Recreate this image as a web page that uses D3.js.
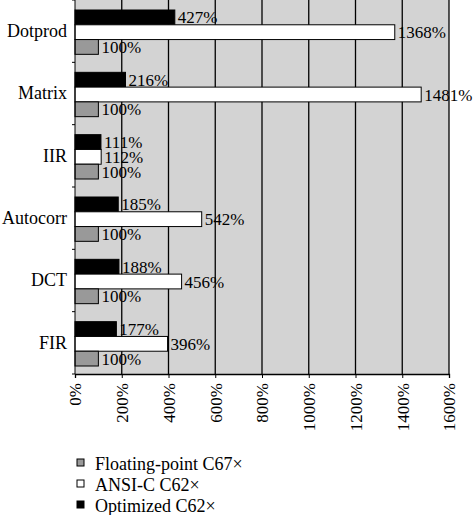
<!DOCTYPE html>
<html><head><meta charset="utf-8">
<script src="https://cdn.jsdelivr.net/npm/d3@7"></script>
<style>body{margin:0;background:#fff}text{font-family:"Liberation Serif","DejaVu Serif",serif}</style>
</head><body>
<svg id="chart" width="474" height="515"></svg>
<script>
const categories = ["Dotprod", "Matrix", "IIR", "Autocorr", "DCT", "FIR"];
const seriesNames = ["Optimized C62×", "ANSI-C C62×", "Floating-point C67×"];
const optimized = [427, 216, 111, 185, 188, 177];
const ansiC = [1368, 1481, 112, 542, 456, 396];
const floating = [100, 100, 100, 100, 100, 100];
const ticks = [0, 200, 400, 600, 800, 1000, 1200, 1400, 1600];
const colors = ["#000", "#fff", "#999"];

const svg = d3.select("#chart");
const x = d3.scaleLinear().domain([0, 1600]).range([75, 449]);
const y = d3.scaleBand().domain(categories).range([0, 374]);
const inner = d3.scaleBand().domain([0, 1, 2]).range([10, y.bandwidth() - 8]).padding(0);
const series = [optimized, ansiC, floating];

svg.append("rect").attr("x", x(0)).attr("y", 0).attr("width", x(1600) - x(0)).attr("height", 374).attr("fill", "#d3d3d3");
svg.selectAll(".grid").data(ticks.slice(1)).enter().append("line")
  .attr("x1", d => x(d)).attr("x2", d => x(d)).attr("y1", 0).attr("y2", 374)
  .attr("stroke", "#000").attr("stroke-width", 1.3);

series.forEach((vals, s) => {
  categories.forEach((c, i) => {
    const by = y(c) + inner(s);
    svg.append("rect").attr("x", x(0)).attr("y", by).attr("width", x(vals[i]) - x(0))
      .attr("height", inner.bandwidth()).attr("fill", colors[s]).attr("stroke", "#000").attr("stroke-width", 1);
    svg.append("text").attr("x", x(vals[i]) + 3).attr("y", by + inner.bandwidth() / 2 + 6)
      .attr("font-size", 17).text(vals[i] + "%");
  });
});

const yAxis = svg.append("g").attr("transform", `translate(${x(0)},0)`)
  .call(d3.axisLeft(y).tickSize(0).tickPadding(8));
yAxis.select(".domain").remove();
yAxis.selectAll("text").style("font-size", "18px").style("font-family", "Liberation Serif, serif");
svg.selectAll(".ysep").data(d3.range(7)).enter().append("line")
  .attr("x1", x(0) - 3).attr("x2", x(0)).attr("y1", d => d * y.step()).attr("y2", d => d * y.step()).attr("stroke", "#000");
svg.append("line").attr("x1", x(0)).attr("x2", x(0)).attr("y1", 0).attr("y2", 374).attr("stroke", "#000");

const xAxis = svg.append("g").attr("transform", "translate(0,374)")
  .call(d3.axisBottom(x).tickValues(ticks).tickSize(4).tickFormat(d => d + "%"));
xAxis.select(".domain").attr("stroke-width", 1.3);
xAxis.selectAll("text").style("font-size", "17px").style("font-family", "Liberation Serif, serif")
  .attr("transform", "rotate(-90)").attr("text-anchor", "end").attr("x", -9).attr("y", 0).attr("dy", "0.35em");

const legend = [["Floating-point C67×", "#999"], ["ANSI-C C62×", "#fff"], ["Optimized C62×", "#000"]];
legend.forEach((l, i) => {
  const ly = 464 + i * 21;
  svg.append("rect").attr("x", 77).attr("y", ly - 5).attr("width", 7).attr("height", 7).attr("fill", l[1]).attr("stroke", "#000");
  svg.append("text").attr("x", 95).attr("y", ly + 6).attr("font-size", 18).text(l[0]);
});
</script>
</body></html>
